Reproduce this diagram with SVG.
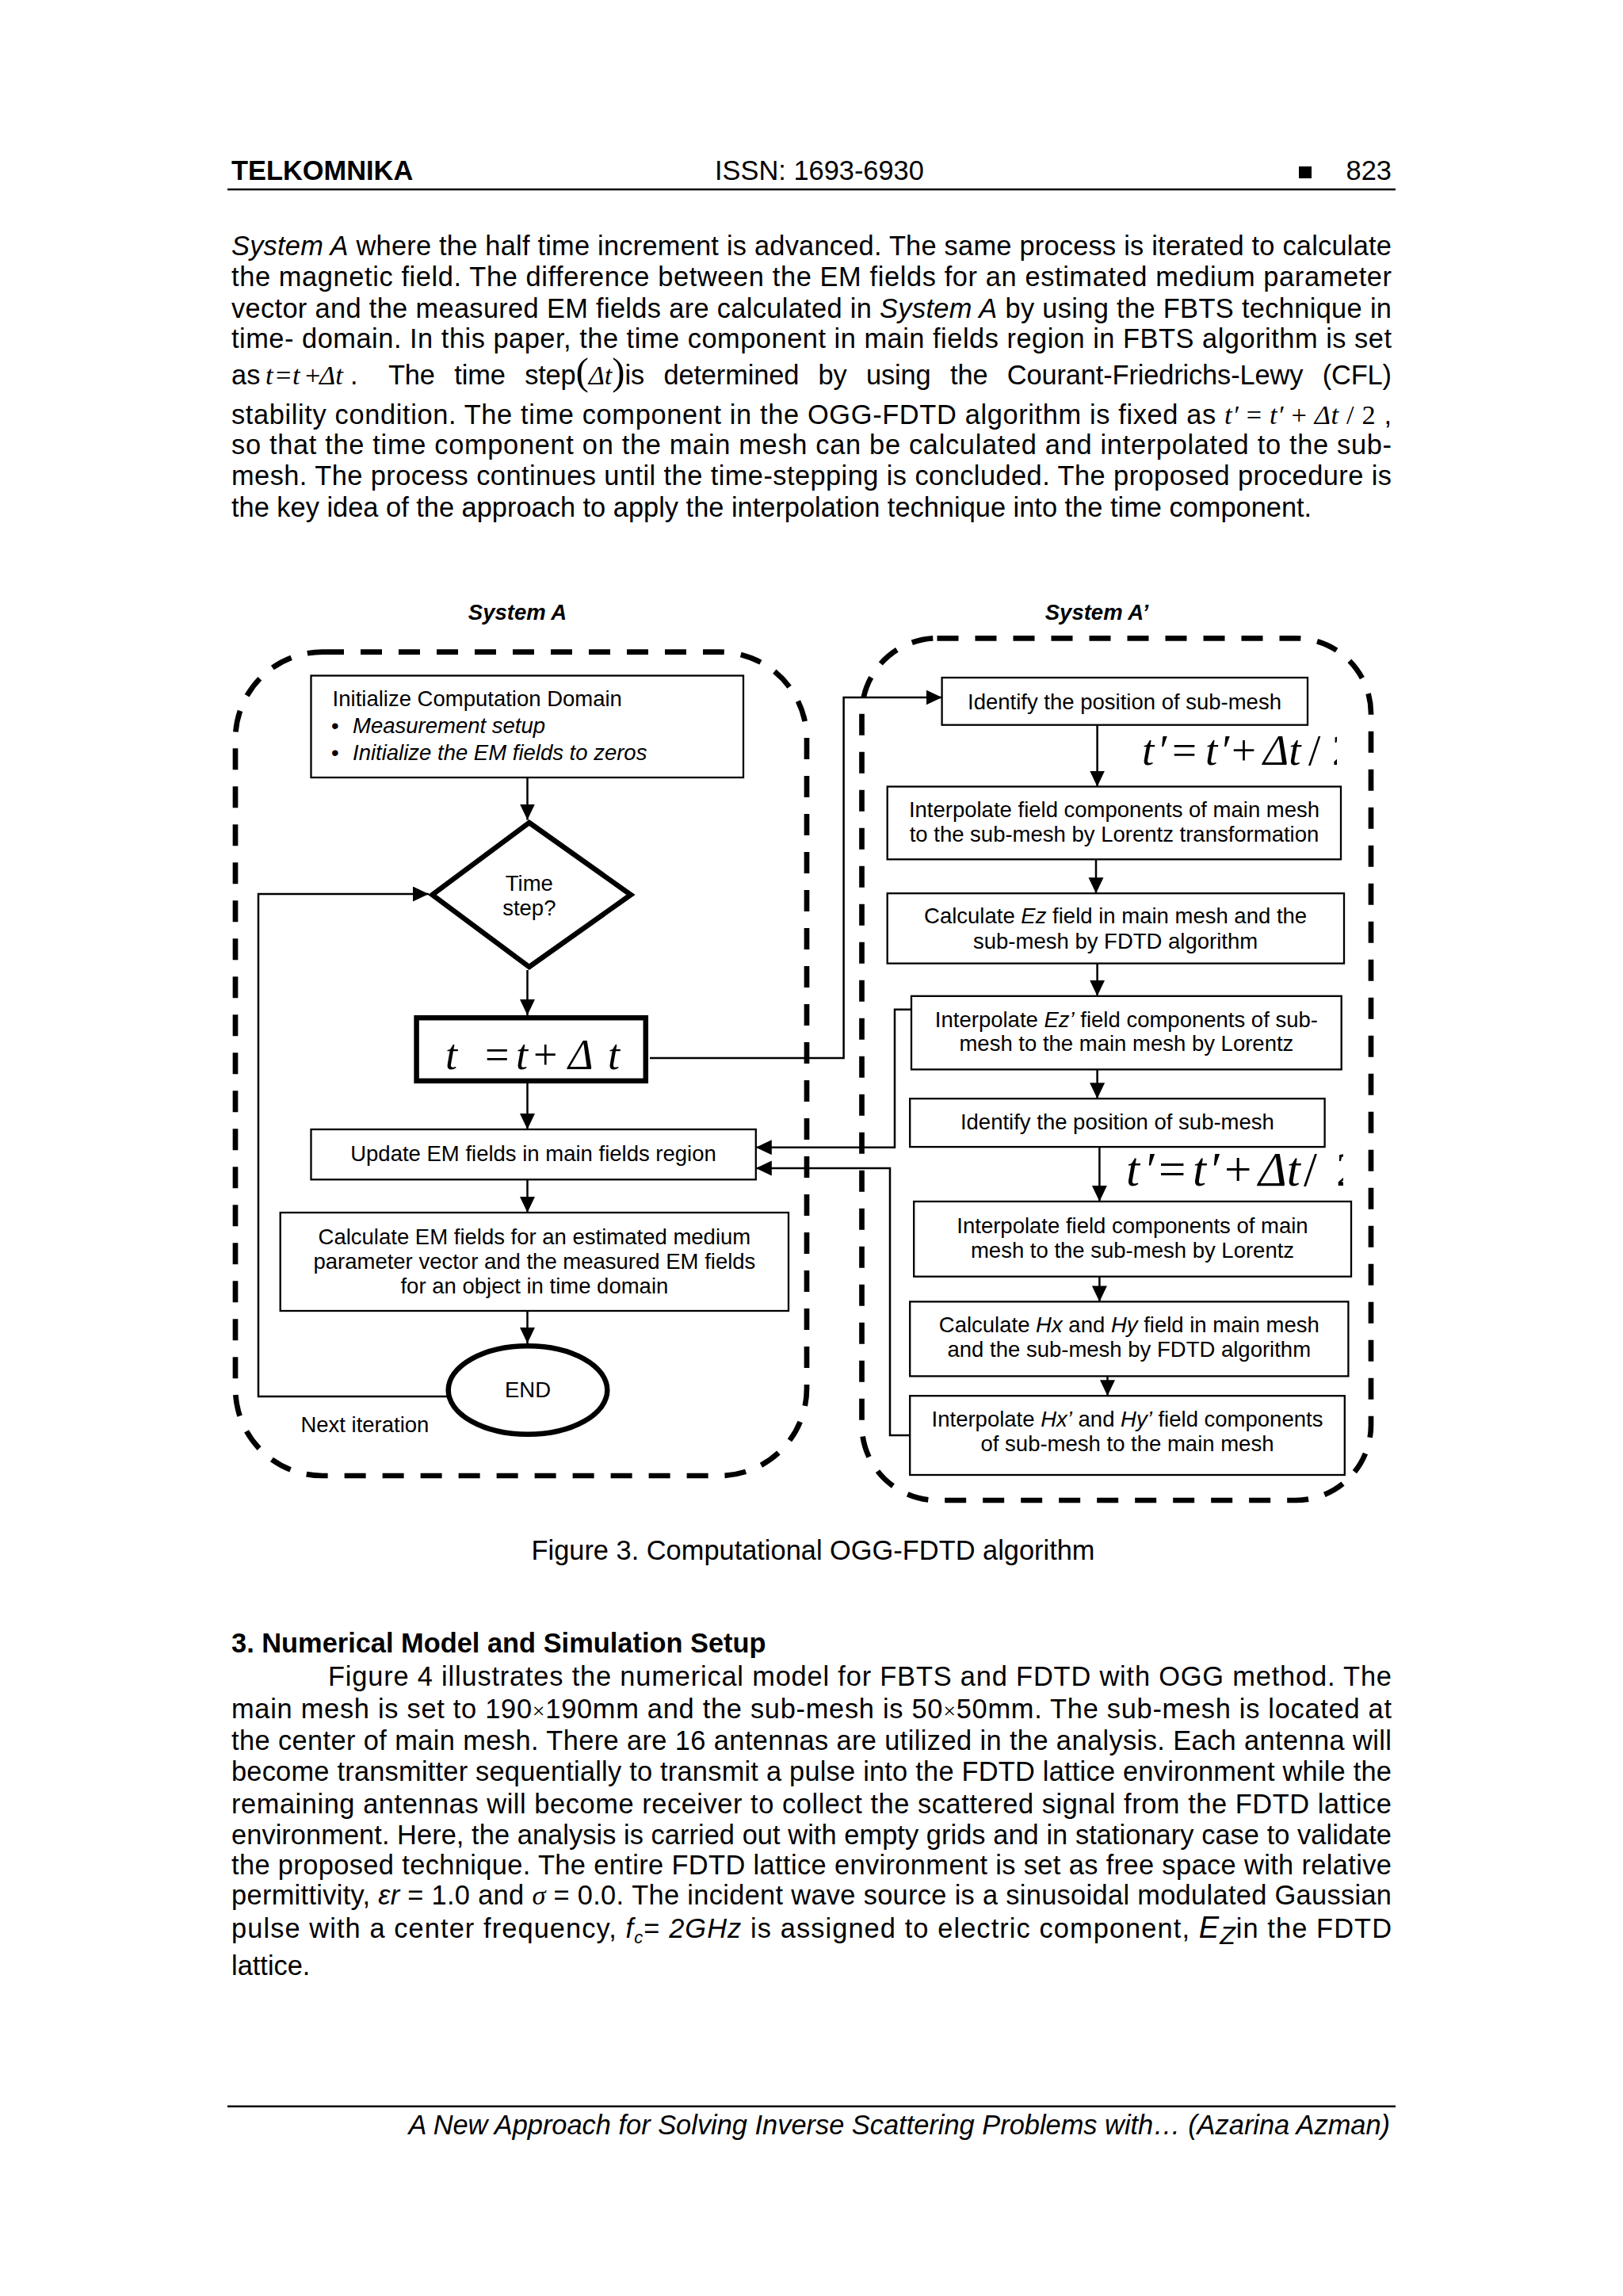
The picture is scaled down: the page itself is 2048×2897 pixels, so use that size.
<svg xmlns="http://www.w3.org/2000/svg" width="2048" height="2897" viewBox="0 0 2048 2897">
<style>
text{fill:#000}
.body{font-family:"Liberation Sans",Arial,sans-serif;font-size:34.4px}
.it{font-style:italic}
.b{font-weight:bold}
.mth{font-family:"Liberation Serif","Times New Roman",serif;font-style:italic}
.up{font-style:normal}
.lbl{font-family:"Liberation Sans",Arial,sans-serif;font-size:27.5px}
.c{text-anchor:middle}
.box{fill:#fff;stroke:#000;stroke-width:2.3}
.thick{fill:#fff;stroke:#000;stroke-width:6.5}
.dash{fill:none;stroke:#000;stroke-width:6.7;stroke-dasharray:27 21}
.conn{fill:none;stroke:#000;stroke-width:2.5}
.arr{marker-end:url(#ah)}
</style>
<defs>
<marker id="ah" markerUnits="userSpaceOnUse" markerWidth="22" markerHeight="22" refX="20" refY="9.5" orient="auto">
<path d="M0,0L20,9.5L0,19z" fill="#000"/>
</marker>
<clipPath id="clipEq1"><rect x="1420" y="900" width="267" height="90"/></clipPath>
<clipPath id="clipEq2"><rect x="1400" y="1440" width="295" height="75"/></clipPath>
</defs>
<rect x="0" y="0" width="2048" height="2897" fill="#fff"/>

<!-- page header -->
<g id="header">
<text class="body b" x="292" y="227">TELKOMNIKA</text>
<text class="body" x="902" y="227">ISSN: 1693-6930</text>
<rect x="1639" y="210" width="16" height="15" fill="#000"/>
<text class="body" x="1756" y="227" text-anchor="end">823</text>
<line x1="287" y1="239" x2="1761" y2="239" stroke="#000" stroke-width="2.5"/>
</g>

<!-- paragraph 1 -->
<g id="para1" class="body">
<text x="292" y="321.7" textLength="1464" lengthAdjust="spacing"><tspan class="it">System A</tspan> where the half time increment is advanced. The same process is iterated to calculate</text>
<text x="292" y="361" textLength="1464" lengthAdjust="spacing">the magnetic field.  The difference between the EM fields for an estimated medium parameter</text>
<text x="292" y="400.5" textLength="1464" lengthAdjust="spacing">vector and the measured EM fields are calculated in <tspan class="it">System A</tspan> by using the FBTS technique in</text>
<text x="292" y="439" textLength="1464" lengthAdjust="spacing">time- domain.  In this paper, the time component in main fields region in FBTS algorithm is set</text>
<text x="292" y="484.5">as</text>
<text class="mth" y="484.5"><tspan x="335">t</tspan><tspan class="up" x="348">=</tspan><tspan x="369">t</tspan><tspan class="up" x="385">+</tspan><tspan x="403">Δt</tspan></text>
<text x="442" y="484.5">.</text>
<text x="490" y="484.5" textLength="1266" lengthAdjust="spacing" style="word-spacing:15px">The time step<tspan class="mth up" font-size="49">(</tspan><tspan class="mth">Δt</tspan><tspan class="mth up" font-size="49">)</tspan>is determined by using the Courant-Friedrichs-Lewy (CFL)</text>
<text x="292" y="534.5" textLength="1464" lengthAdjust="spacing">stability condition.  The time component in the OGG-FDTD algorithm is fixed as <tspan class="mth">t′ <tspan class="up">=</tspan> t′ <tspan class="up">+</tspan> Δt <tspan class="up">/ 2</tspan></tspan> ,</text>
<text x="292" y="573" textLength="1464" lengthAdjust="spacing">so that the time component on the main mesh can be calculated and interpolated to the sub-</text>
<text x="292" y="611.5" textLength="1464" lengthAdjust="spacing">mesh. The process continues until the time-stepping is concluded. The proposed procedure is</text>
<text x="292" y="651.5">the key idea of the approach to apply the interpolation technique into the time component.</text>
</g>

<!-- figure -->
<g id="systemA-label"><text class="lbl b it c" x="653" y="782">System A</text></g>
<g id="systemA2-label"><text class="lbl b it c" x="1384" y="782">System A’</text></g>
<g id="systemA-frame"><rect class="dash" x="297" y="822.6" width="721" height="1039.4" rx="110" ry="110"/></g>
<g id="systemA2-frame"><rect class="dash" x="1087.5" y="805.3" width="642.5" height="1087.7" rx="95" ry="95"/></g>

<g id="connectors">
<path class="conn arr" d="M665.5,981V1034.6"/>
<path class="conn arr" d="M665.5,1224V1281"/>
<path class="conn arr" d="M665.5,1367V1425"/>
<path class="conn arr" d="M665.5,1488.3V1530"/>
<path class="conn arr" d="M665.5,1654V1695"/>
<path class="conn arr" d="M564,1762H326V1128H541"/>
<path class="conn arr" d="M820,1335H1064.6V880H1188.6"/>
<path class="conn arr" d="M1384.6,914.7V992.5"/>
<path class="conn arr" d="M1383,1084.3V1127.2"/>
<path class="conn arr" d="M1384.6,1215.6V1256.8"/>
<path class="conn arr" d="M1384.6,1349.4V1386.2"/>
<path class="conn arr" d="M1387.4,1447.1V1516"/>
<path class="conn arr" d="M1387.4,1610.7V1642.4"/>
<path class="conn arr" d="M1397.5,1736.4V1761.2"/>
<path class="conn arr" d="M1150,1273.7H1129V1447.7H953.8"/>
<path class="conn arr" d="M1148,1811H1123V1474H953.8"/>
</g>

<g id="n-init">
<rect class="box" x="392.5" y="852.5" width="545.5" height="128.5"/>
<text class="lbl" x="419.6" y="891">Initialize Computation Domain</text>
<text class="lbl" x="418" y="925">•</text><text class="lbl it" x="445" y="925">Measurement setup</text>
<text class="lbl" x="418" y="959">•</text><text class="lbl it" x="445" y="959">Initialize the EM fields to zeros</text>
</g>
<g id="n-timestep">
<path class="thick" d="M667.8,1038L796,1129L667.8,1220L545.5,1129Z"/>
<text class="lbl c" x="667.8" y="1124">Time</text>
<text class="lbl c" x="667.8" y="1155">step?</text>
</g>
<g id="n-tupdate">
<rect class="thick" x="525.6" y="1284.2" width="289.2" height="79.6"/>
<text class="mth" font-size="54" y="1349"><tspan x="562">t</tspan><tspan class="up" x="612">=</tspan><tspan x="651">t</tspan><tspan class="up" x="673">+</tspan><tspan x="717">Δ</tspan><tspan x="767">t</tspan></text>
</g>
<g id="n-update">
<rect class="box" x="392.5" y="1425" width="561.3" height="63.3"/>
<text class="lbl c" x="673" y="1465">Update EM fields in main fields region</text>
</g>
<g id="n-calcem">
<rect class="box" x="353.7" y="1530" width="641.3" height="124"/>
<text class="lbl c" x="674.4" y="1570">Calculate EM fields for an estimated medium</text>
<text class="lbl c" x="674.4" y="1601">parameter vector and the measured EM fields</text>
<text class="lbl c" x="674.4" y="1632">for an object in time domain</text>
</g>
<g id="n-end">
<ellipse class="thick" cx="666" cy="1754" rx="100.3" ry="55.8"/>
<text class="lbl c" x="666" y="1763">END</text>
</g>
<g id="l-next"><text class="lbl" x="379.4" y="1807">Next iteration</text></g>

<g id="n-id1">
<rect class="box" x="1188.6" y="855" width="461.4" height="59.7"/>
<text class="lbl c" x="1419" y="894.5">Identify the position of sub-mesh</text>
</g>
<g id="eq1" clip-path="url(#clipEq1)">
<text class="mth" font-size="55" y="965"><tspan x="1441">t</tspan><tspan x="1460">′</tspan><tspan class="up" x="1479">=</tspan><tspan x="1521">t</tspan><tspan x="1539">′</tspan><tspan class="up" x="1554">+</tspan><tspan x="1594">Δt</tspan><tspan class="up" x="1651">/</tspan><tspan class="up" x="1681">2</tspan></text>
</g>
<g id="n-interp1">
<rect class="box" x="1119.7" y="992.5" width="572.3" height="91.8"/>
<text class="lbl c" x="1406" y="1031.3">Interpolate field components of main mesh</text>
<text class="lbl c" x="1406" y="1062">to the sub-mesh by Lorentz transformation</text>
</g>
<g id="n-calcez">
<rect class="box" x="1119.7" y="1127.2" width="576.3" height="88.4"/>
<text class="lbl c" x="1407.6" y="1165">Calculate <tspan class="it">Ez</tspan> field in main mesh and the</text>
<text class="lbl c" x="1407.6" y="1196.7">sub-mesh by FDTD algorithm</text>
</g>
<g id="n-interpez">
<rect class="box" x="1150" y="1256.8" width="542.7" height="92.6"/>
<text class="lbl c" x="1421.4" y="1295.6">Interpolate <tspan class="it">Ez’</tspan> field components of sub-</text>
<text class="lbl c" x="1421.4" y="1326.3">mesh to the main mesh by Lorentz</text>
</g>
<g id="n-id2">
<rect class="box" x="1148.2" y="1386.2" width="523.4" height="60.9"/>
<text class="lbl c" x="1409.9" y="1424.8">Identify the position of sub-mesh</text>
</g>
<g id="eq2" clip-path="url(#clipEq2)">
<text class="mth" font-size="61" y="1496"><tspan x="1421">t</tspan><tspan x="1443">′</tspan><tspan class="up" x="1462">=</tspan><tspan x="1505">t</tspan><tspan x="1525">′</tspan><tspan class="up" x="1545">+</tspan><tspan x="1588">Δt</tspan><tspan class="up" x="1645">/</tspan><tspan class="up" x="1686">2</tspan></text>
</g>
<g id="n-interp2">
<rect class="box" x="1153.2" y="1516" width="551.8" height="94.7"/>
<text class="lbl c" x="1429" y="1555.6">Interpolate field components of main</text>
<text class="lbl c" x="1429" y="1586.6">mesh to the sub-mesh by Lorentz</text>
</g>
<g id="n-calch">
<rect class="box" x="1148.2" y="1642.4" width="553.2" height="94"/>
<text class="lbl c" x="1424.8" y="1681.3">Calculate <tspan class="it">Hx</tspan> and <tspan class="it">Hy</tspan> field in main mesh</text>
<text class="lbl c" x="1424.8" y="1712.3">and the sub-mesh by FDTD algorithm</text>
</g>
<g id="n-interph">
<rect class="box" x="1148.2" y="1761.2" width="548.6" height="99.8"/>
<text class="lbl c" x="1422.5" y="1800">Interpolate <tspan class="it">Hx’</tspan> and <tspan class="it">Hy’</tspan> field components</text>
<text class="lbl c" x="1422.5" y="1831">of sub-mesh to the main mesh</text>
</g>

<g id="caption"><text class="body c" x="1026" y="1967.7">Figure 3. Computational OGG-FDTD algorithm</text></g>

<!-- section 3 -->
<g id="para2" class="body">
<text class="b" x="292" y="2085">3. Numerical Model and Simulation Setup</text>
<text x="414" y="2126.8" textLength="1342" lengthAdjust="spacing">Figure 4 illustrates the numerical model for FBTS and FDTD with OGG method. The</text>
<text x="292" y="2167.5" textLength="1464" lengthAdjust="spacing">main mesh is set to 190<tspan class="mth up" font-size="28">×</tspan>190mm and the sub-mesh is 50<tspan class="mth up" font-size="28">×</tspan>50mm.  The sub-mesh is located at</text>
<text x="292" y="2208" textLength="1464" lengthAdjust="spacing">the center of main mesh. There are 16 antennas are utilized in the analysis.  Each antenna will</text>
<text x="292" y="2247" textLength="1464" lengthAdjust="spacing">become transmitter sequentially to transmit a pulse into the FDTD lattice environment while the</text>
<text x="292" y="2287.8" textLength="1464" lengthAdjust="spacing">remaining antennas will become receiver to collect the scattered signal from the FDTD lattice</text>
<text x="292" y="2326.6" textLength="1464" lengthAdjust="spacing">environment.  Here, the analysis is carried out with empty grids and in stationary case to validate</text>
<text x="292" y="2365.4" textLength="1464" lengthAdjust="spacing">the proposed technique.  The entire FDTD lattice environment is set as free space with relative</text>
<text x="292" y="2403.3" textLength="1464" lengthAdjust="spacing">permittivity, <tspan class="it">εr</tspan> = 1.0 and <tspan class="mth">σ</tspan> = 0.0.  The incident wave source is a sinusoidal modulated Gaussian</text>
<text x="292" y="2445" textLength="1464" lengthAdjust="spacing">pulse with a center frequency, <tspan class="it">f</tspan><tspan class="it" font-size="22" dy="7">c</tspan><tspan dy="-7">= </tspan><tspan class="it">2GHz</tspan> is assigned to electric component, <tspan class="it" font-size="38">E</tspan><tspan class="it" font-size="32" dy="8">Z</tspan><tspan dy="-8">in the FDTD</tspan></text>
<text x="292" y="2491.7">lattice.</text>
</g>

<!-- footer -->
<g id="footer">
<line x1="287" y1="2657.7" x2="1761" y2="2657.7" stroke="#000" stroke-width="2.5"/>
<text class="body it" x="1754" y="2692.7" text-anchor="end">A New Approach for Solving Inverse Scattering Problems with… (Azarina Azman)</text>
</g>
</svg>
